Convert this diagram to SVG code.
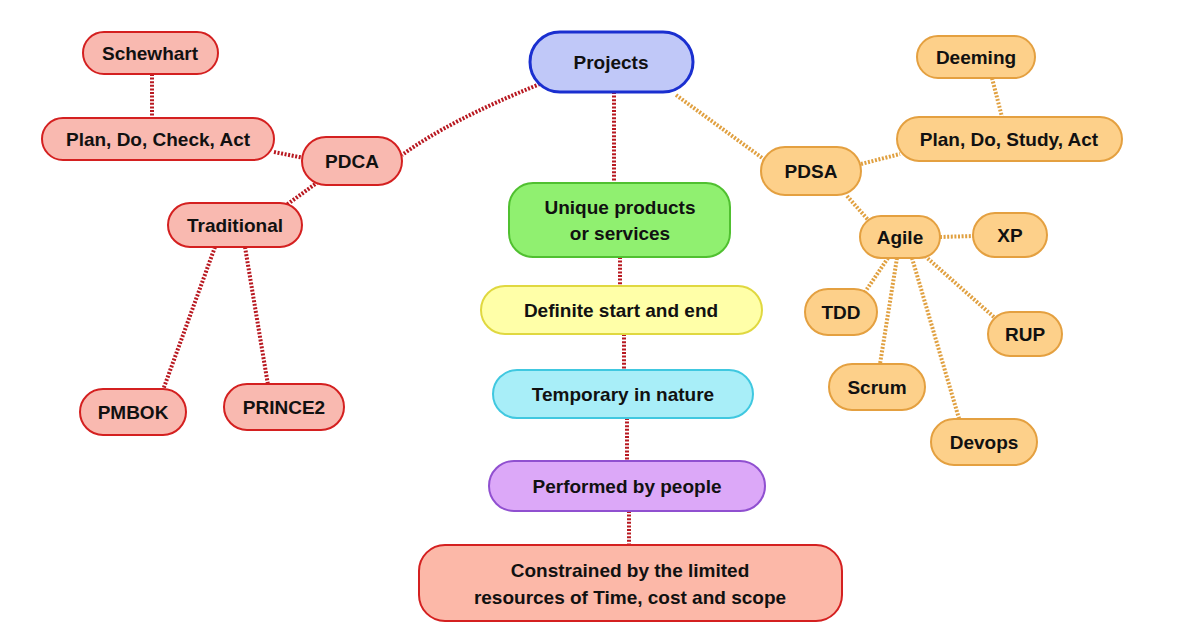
<svg xmlns="http://www.w3.org/2000/svg" width="1200" height="630" viewBox="0 0 1200 630">
<style>
text{font-family:"Liberation Sans",Arial,sans-serif;font-weight:bold;fill:#111;text-anchor:middle;dominant-baseline:central;font-size:19px}
.r rect{fill:#f9b9b0;stroke:#d42020;stroke-width:2}
.o rect{fill:#fdd08a;stroke:#e4a040;stroke-width:2}
.cr{stroke:#b81820;stroke-width:4;stroke-dasharray:2 1.6;fill:none}
.co{stroke:#e0a040;stroke-width:4;stroke-dasharray:2 1.6;fill:none}
</style>
<rect width="1200" height="630" fill="#fff"/>
<g id="connectors">
<path class="cr" d="M540 84 Q450 120 402 155"/>
<path class="cr" d="M152 74 V118"/>
<path class="cr" d="M274 152 L304 158"/>
<path class="cr" d="M318 182 L285 206"/>
<path class="cr" d="M215 247 L163 390"/>
<path class="cr" d="M245 247 L268 385"/>
<path class="cr" d="M614 92 V183"/>
<path class="cr" d="M620 257 V286"/>
<path class="cr" d="M624 334 V370"/>
<path class="cr" d="M627 418 V461"/>
<path class="cr" d="M629 511 V545"/>
<path class="co" d="M676 95 L765 160"/>
<path class="co" d="M992 78 L1002 117"/>
<path class="co" d="M861 164 L900 154"/>
<path class="co" d="M847 196 L870 222"/>
<path class="co" d="M940 237 L973 236"/>
<path class="co" d="M888 258 L865 292"/>
<path class="co" d="M897 258 L880 364"/>
<path class="co" d="M912 258 L960 422"/>
<path class="co" d="M925 256 L995 318"/>
</g>
<g id="projects"><rect x="530" y="32" width="163" height="60" rx="30" fill="#c0c8f8" stroke="#1a2fd0" stroke-width="3"/><text x="611" y="62" font-size="26">Projects</text></g>
<g id="schewhart" class="r"><rect x="83" y="32" width="135" height="42" rx="21"/><text x="150" y="53">Schewhart</text></g>
<g id="pdca-steps" class="r"><rect x="42" y="118" width="232" height="42" rx="21"/><text x="158" y="139">Plan, Do, Check, Act</text></g>
<g id="pdca" class="r"><rect x="302" y="137" width="100" height="48" rx="24"/><text x="352" y="161" font-size="22">PDCA</text></g>
<g id="traditional" class="r"><rect x="168" y="203" width="134" height="44" rx="22"/><text x="235" y="225">Traditional</text></g>
<g id="pmbok" class="r"><rect x="80" y="389" width="106" height="46" rx="23"/><text x="133" y="412">PMBOK</text></g>
<g id="prince2" class="r"><rect x="224" y="384" width="120" height="46" rx="23"/><text x="284" y="407">PRINCE2</text></g>
<g id="unique"><rect x="509" y="183" width="221" height="74" rx="24" fill="#90f070" stroke="#50c030" stroke-width="2"/><text x="620" y="207" font-size="20">Unique products</text><text x="620" y="233" font-size="20">or services</text></g>
<g id="definite"><rect x="481" y="286" width="281" height="48" rx="24" fill="#ffffa8" stroke="#e0d840" stroke-width="2"/><text x="621" y="310" font-size="20">Definite start and end</text></g>
<g id="temporary"><rect x="493" y="370" width="260" height="48" rx="24" fill="#a8eef8" stroke="#40c8e0" stroke-width="2"/><text x="623" y="394" font-size="20">Temporary in nature</text></g>
<g id="performed"><rect x="489" y="461" width="276" height="50" rx="25" fill="#dca8f8" stroke="#9050d0" stroke-width="2"/><text x="627" y="486" font-size="20">Performed by people</text></g>
<g id="constrained"><rect x="419" y="545" width="423" height="76" rx="26" fill="#fcb8a8" stroke="#d42020" stroke-width="2"/><text x="630" y="570" font-size="21">Constrained by the limited</text><text x="630" y="597" font-size="21">resources of Time, cost and scope</text></g>
<g id="deeming" class="o"><rect x="917" y="36" width="118" height="42" rx="21"/><text x="976" y="57">Deeming</text></g>
<g id="pdsa-steps" class="o"><rect x="897" y="117" width="225" height="44" rx="22"/><text x="1009" y="139">Plan, Do, Study, Act</text></g>
<g id="pdsa" class="o"><rect x="761" y="147" width="100" height="48" rx="24"/><text x="811" y="171" font-size="22">PDSA</text></g>
<g id="agile" class="o"><rect x="860" y="216" width="80" height="42" rx="21"/><text x="900" y="237">Agile</text></g>
<g id="xp" class="o"><rect x="973" y="213" width="74" height="44" rx="22"/><text x="1010" y="235">XP</text></g>
<g id="tdd" class="o"><rect x="805" y="289" width="72" height="46" rx="23"/><text x="841" y="312">TDD</text></g>
<g id="rup" class="o"><rect x="988" y="312" width="74" height="44" rx="22"/><text x="1025" y="334">RUP</text></g>
<g id="scrum" class="o"><rect x="829" y="364" width="96" height="46" rx="23"/><text x="877" y="387">Scrum</text></g>
<g id="devops" class="o"><rect x="931" y="419" width="106" height="46" rx="23"/><text x="984" y="442">Devops</text></g>
</svg>
